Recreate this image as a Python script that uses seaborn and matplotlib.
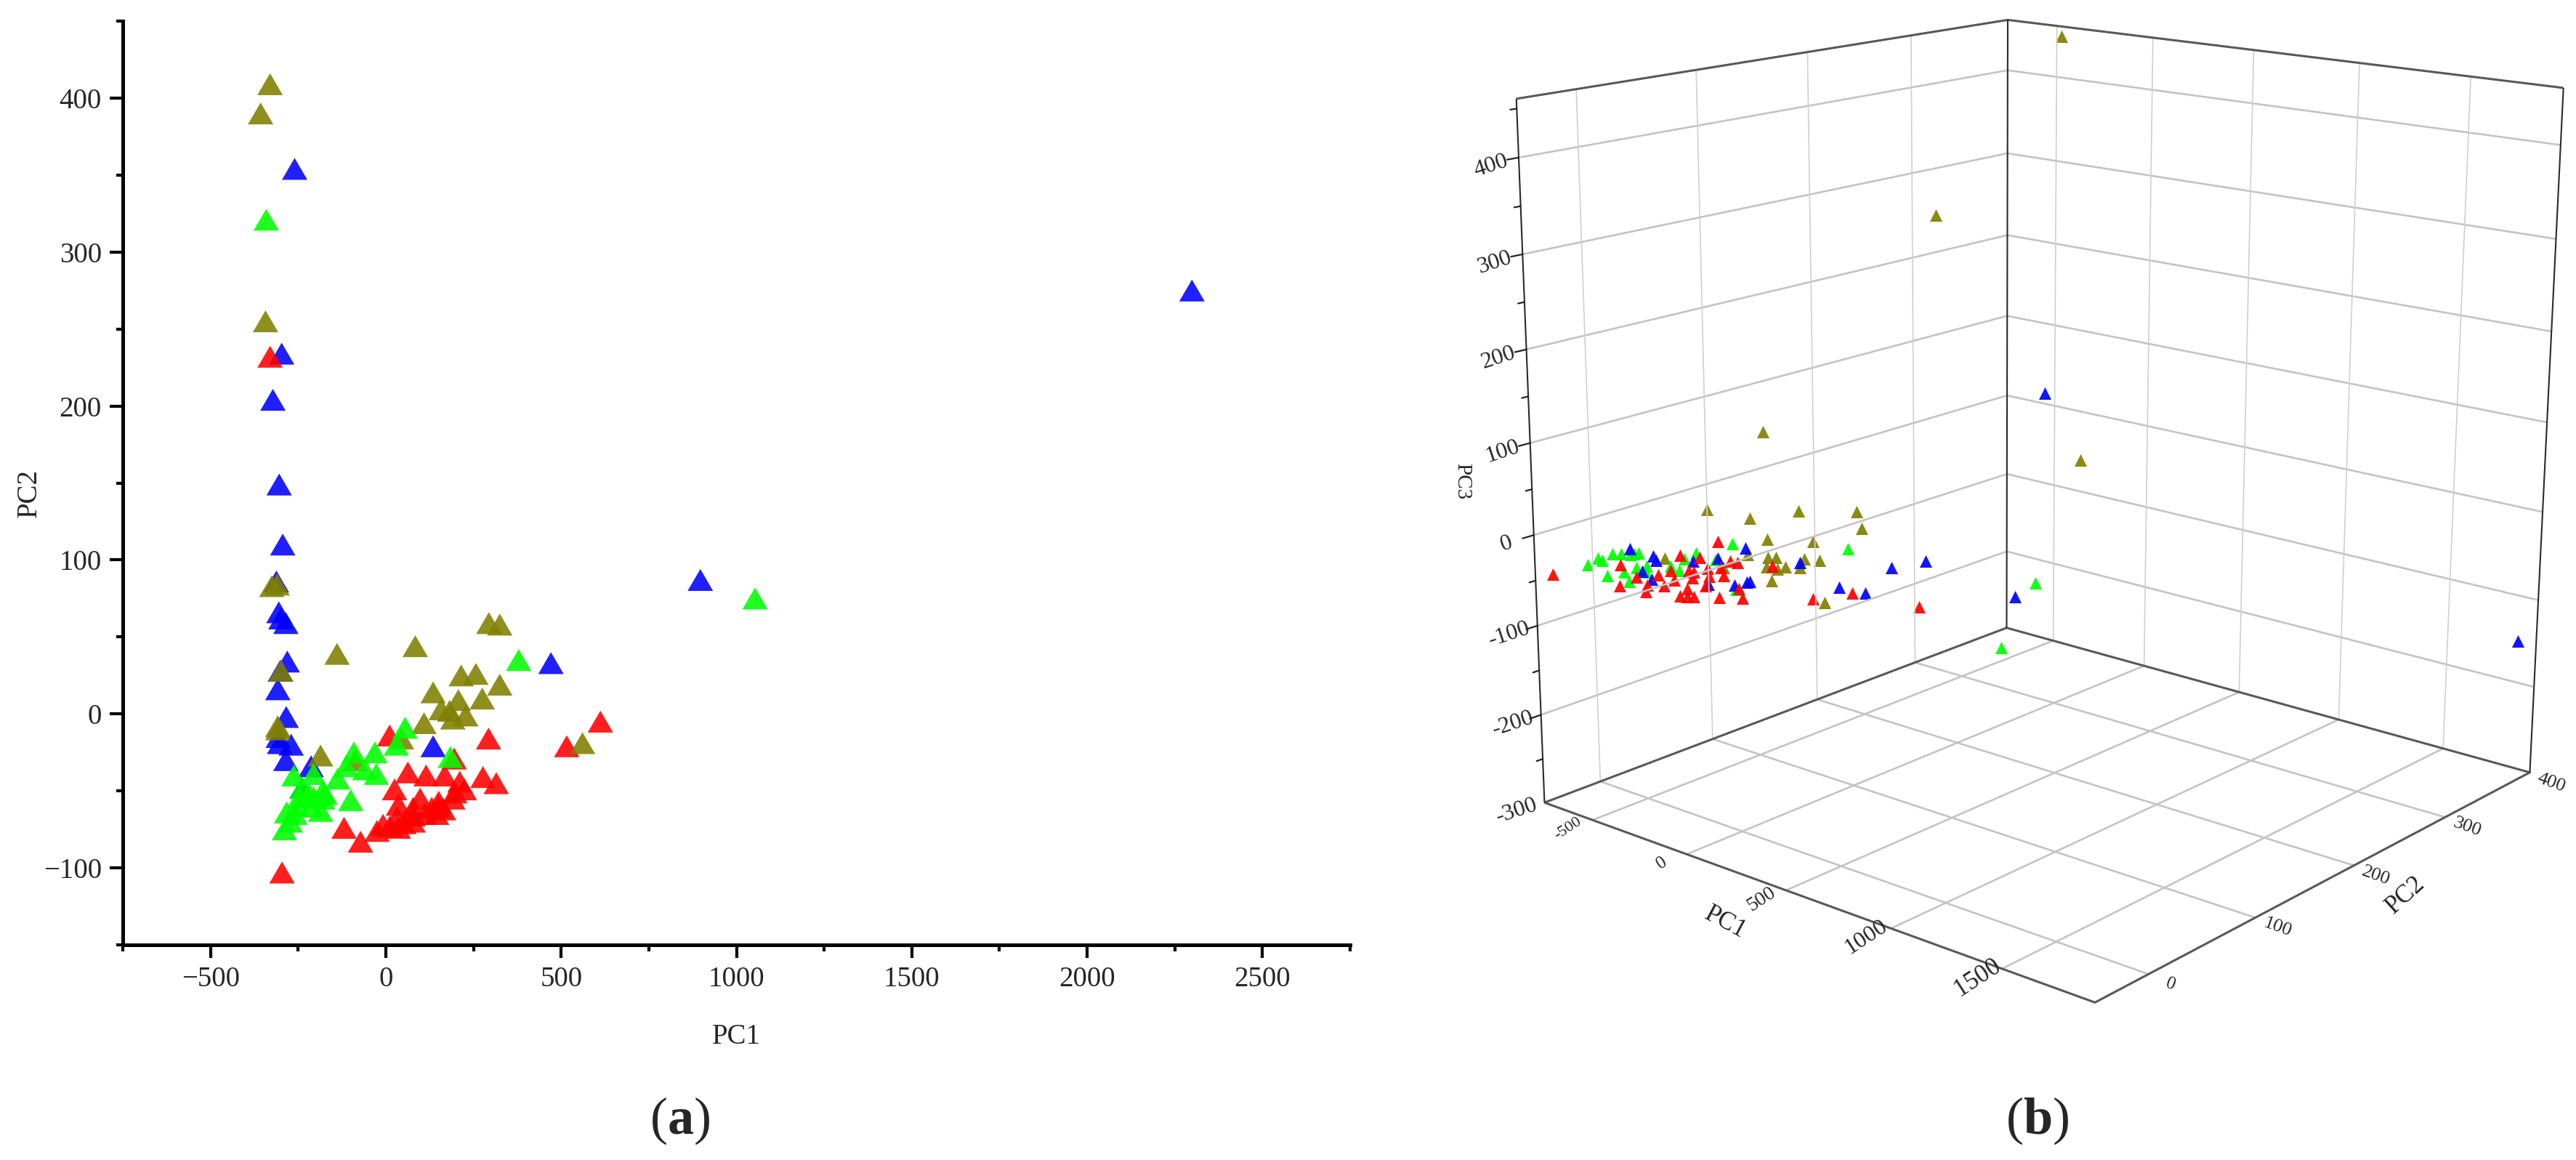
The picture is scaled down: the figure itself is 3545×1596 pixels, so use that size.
import numpy as np
import pandas as pd
import seaborn as sns
import matplotlib
matplotlib.use("Agg")
import matplotlib.pyplot as plt
from matplotlib.ticker import MultipleLocator
from mpl_toolkits.mplot3d import proj3d

# panel (a), PC1 / PC2 scores
blue_x = [2299, 897, 471, -260, -297, -322, -304, -294, -312, -305, -299, -285, -281, -301, -308, -284, -307, -303, -270, -285, -213, -239, 135]
blue_y = [275, 87, 33, 354, 234, 204, 149, 110, 86, 66, 62, 59, 34, 28, 16, -2, -15, -19, -20, -30, -34, -48, -21]
red_x = [-330, -296, -72, -119, 612, 516, 293, 11, 195, 63, 115, 277, 315, 168, 25, 211, 98, 224, 197, 36, 78, 151, 191, 131, 151, 165, 111, 145, 78, 32, -8, -25, 12, 36, 78, 52]
red_y = [232, -103, -83, -74, -5, -21, -16, -14, -29, -38, -40, -41, -45, -40, -49, -44, -55, -49, -51, -59, -61, -57, -55, -61, -60, -62, -65, -65, -66, -67, -72, -76, -73, -74, -70, -71]
olive_x = [-330, -357, -343, -325, -310, 294, 325, 84, -139, -299, 215, 257, 325, 135, 207, 275, 158, 182, 228, 191, 109, -308, -308, 561, 45, -186, -87]
olive_y = [409, 390, 255, 83, 84, 59, 58, 44, 39, 28, 25, 26, 19, 14, 9, 10, 3, 2, -1, -3, -6, -8, -10, -19, -16, -27, -30]
green_x = [1053, -341, 379, 55, 30, 184, -91, -31, -60, -113, -27, -206, -262, -137, -100, -239, -180, -219, -173, -246, -206, -180, -186, -283, -259, -272, -289, -252, -213]
green_y = [75, 321, 35, -9, -20, -28, -25, -25, -36, -34, -39, -39, -40, -42, -56, -48, -50, -52, -52, -54, -54, -55, -63, -64, -65, -70, -75, -60, -60]

# panel (b), PC1 / PC2 / PC3 scores
red3_x = [-649, -284, -290, -203, -157, -146, -90, -60, -25, -8, 26, 124, 216, 66, 94, 86, 164, 170, 148, 227, 239, 275, 312, 57, 21, 56, 91, 216, 333, 313, 478, 670, 854, 1152]
red3_z = [-35, -3, -26, -11, -24, -16, -2, -12, 6, -3, 25, 29, 51, 12, 12, 5, 20, 12, 1, 24, 17, 34, 35, -8, -18, -16, -14, -7, -1, 8, 41, 19, 36, 41]
red3_y = [-50] * 34
green3_x = [-458, -401, -379, -326, -279, -231, -209, -188, -356, -268, -240, -201, -146, -154, -25, 20, 47, 106, 203, 287, 300, 835, -206, 878]
green3_z = [-13, -3, -4, 6, 9, 11, 13, 15, -19, -10, -18, -1, 4, -3, 11, 9, 23, 32, 31, 53, 6, 79, -174, -73]
green3_y = [-50] * 22 + [321, 73]
blue3_x = [-557, -433, -419, -496, -446, -225, -94, 49, -145, -12, 52, 66, 318, 509, 631, 757, 915, -325, 125, 2266]
blue3_z = [-22, -23, -27, -43, -49, -16, -5, 14, -37, -29, -22, -21, 14, 0, 1, 35, 51, 40, -134, -67]
blue3_y = [0] * 17 + [354, 234, 274]
olive3_x = [-205, 13, 257, 540, 563, 98, 325, -3, -435, 100, 139, 280, 358, 92, 148, 186, 259, 115, 380, -129, -519, -1117, 349, -355]
olive3_z = [37, 40, 61, 76, 60, 22, 33, 0, -29, 3, 5, 12, 15, -8, -7, -2, 1, -21, -28, -22, 446, 214, 30, 87]
olive3_y = [10] * 20 + [409, 390, 255, 84]

group_colors = {"blue": "#0000ff", "red": "#ff0000", "olive": "#808000", "green": "#00ff00"}
x_ticks = [-500, 0, 500, 1000, 1500, 2000, 2500]
y_ticks = [-100, 0, 100, 200, 300, 400]
pc1_ticks = [-500, 0, 500, 1000, 1500]
pc2_ticks = [0, 100, 200, 300, 400]
pc3_ticks = [-300, -200, -100, 0, 100, 200, 300, 400]

W, H = 3545, 1596

sns.set_style("ticks")
plt.rcParams["font.family"] = ["Liberation Serif", "DejaVu Serif"]
plt.rcParams["mathtext.fontset"] = "custom"
plt.rcParams["mathtext.bf"] = "Liberation Serif:bold"
plt.rcParams["mathtext.rm"] = "Liberation Serif"

fig = plt.figure(figsize=(W / 200, H / 200), dpi=200, facecolor="white")

# ---- panel a ----
ax = fig.add_axes([169 / W, (H - 1300) / H, (1858 - 169) / W, (1300 - 29) / H])

df = pd.DataFrame({
    "PC1": blue_x + red_x + olive_x + green_x,
    "PC2": blue_y + red_y + olive_y + green_y,
    "group": ["blue"] * len(blue_x) + ["red"] * len(red_x) + ["olive"] * len(olive_x) + ["green"] * len(green_x),
})
tri = [(0, 0.43), (-0.5, -0.43), (0.5, -0.43)]
sns.scatterplot(data=df, x="PC1", y="PC2", hue="group", palette=group_colors, marker=tri,
                s=159, alpha=0.88, linewidth=0, edgecolor="none", legend=False, ax=ax, clip_on=False)
ax.set_xlim(-750, 2750)
ax.set_ylim(-150, 450)
ax.set_xticks(x_ticks)
ax.set_yticks(y_ticks)
ax.xaxis.set_minor_locator(MultipleLocator(250))
ax.yaxis.set_minor_locator(MultipleLocator(50))
ax.tick_params(which="major", length=6.5, width=1.5, labelsize=14, pad=4, color="black")
ax.tick_params(which="minor", length=3.3, width=1.5, color="black")
ax.set_xlabel("")
ax.set_ylabel("")
sns.despine(ax=ax)
for side in ["left", "bottom"]:
    ax.spines[side].set_linewidth(1.8)
    ax.spines[side].set_color("black")
ax.patch.set_visible(False)

fig.text(1013 / W, 1 - 1426 / H, "PC1", fontsize=14, ha="center", va="center")
fig.text(40 / W, 1 - 678 / H, "PC2", fontsize=14, ha="center", va="center", rotation=90)
fig.text(936 / W, 1 - 1542 / H, r"($\mathbf{a}$)", fontsize=26, ha="center", va="center")
fig.text(2804 / W, 1 - 1542 / H, r"($\mathbf{b}$)", fontsize=26, ha="center", va="center")

# ---- panel b ----
S = 1667.5
cx, cy = 2793.1, 953.2
ax3 = fig.add_axes([(cx - S / 2) / W, (cy - S / 2) / H, S / W, S / H], projection="3d")
pmin, pmax = -765.5, 1897.4
qmin, qmax = -47.2, 400
zmin, zmax = -300, 460
ax3.set_proj_type("persp", focal_length=0.487)
ax3.view_init(elev=15.641, azim=-50.32, roll=-0.301)
ax3.set_xlim(pmin, pmax, view_margin=0)
ax3.set_ylim(qmin, qmax, view_margin=0)
ax3.set_zlim(zmin, zmax, view_margin=0)
ax3.set_box_aspect((0.998, 1.005, 1))
ax3.set_axis_off()
ax3.patch.set_visible(False)
ax3.computed_zorder = False

grid_kw = dict(color="#c4c4c4", lw=0.95, solid_capstyle="butt")
vert_kw = dict(color="#d0d0d0", lw=0.6, solid_capstyle="butt")
edge_kw = dict(color="#585858", lw=1.1, solid_capstyle="butt")
post_kw = dict(color="#2a2a2a", lw=0.75, solid_capstyle="butt")

for z in pc3_ticks[1:]:
    ax3.plot([pmin, pmin, pmax], [qmin, qmax, qmax], [z, z, z], **grid_kw)
for q in pc2_ticks[:-1]:
    ax3.plot([pmin, pmin], [q, q], [zmin, zmax], **vert_kw)
    ax3.plot([pmin, pmax], [q, q], [zmin, zmin], **grid_kw)
for p in pc1_ticks:
    ax3.plot([p, p], [qmax, qmax], [zmin, zmax], **vert_kw)
    ax3.plot([p, p], [qmin, qmax], [zmin, zmin], **grid_kw)

ax3.plot([pmin, pmax, pmax, pmin, pmin], [qmin, qmin, qmax, qmax, qmin], [zmin] * 5, **edge_kw)
ax3.plot([pmin, pmin, pmax], [qmin, qmax, qmax], [zmax] * 3, **edge_kw)
for p, q in [(pmin, qmin), (pmin, qmax), (pmax, qmax)]:
    ax3.plot([p, p], [q, q], [zmin, zmax], **post_kw)

# little ticks on the PC3 post
for z in range(-250, 460, 50):
    ln = 9 if z % 100 == 0 else 5
    ax3.plot([pmin, pmin], [qmin, qmin - ln], [z, z], color="#222222", lw=0.8)

for gx, gy, gz, name in [(olive3_x, olive3_y, olive3_z, "olive"), (green3_x, green3_y, green3_z, "green"),
                         (blue3_x, blue3_y, blue3_z, "blue"), (red3_x, red3_y, red3_z, "red")]:
    ax3.scatter(gx, gy, gz, marker="^", s=38, c=group_colors[name], alpha=0.92, linewidths=0, depthshade=False)


def tick_text(x, y, z, txt, dx, dy, rot, size):
    xv, yv, _ = proj3d.proj_transform(x, y, z, ax3.get_proj())
    ax3.annotate(txt, (xv, yv), xytext=(dx, dy), textcoords="offset pixels", fontsize=size,
                 rotation=rot, ha="center", va="center", annotation_clip=False)


for z in pc3_ticks:
    tick_text(pmin, qmin, z, str(z), -38, -12, 18, 11.5)
for p, sz in zip(pc1_ticks, [8, 9, 10, 11.5, 12.5]):
    tick_text(p, qmin, zmin, str(p), -34, -12, 33, sz)
for q, sz in zip(pc2_ticks, [9, 9.5, 9.5, 9.5, 9.5]):
    tick_text(pmax, q, zmin, str(q), 30, -14, -20, sz)

fig.text(2374 / W, 1 - 1270 / H, "PC1", fontsize=12.5, ha="center", va="center", rotation=-28)
fig.text(3310 / W, 1 - 1232 / H, "PC2", fontsize=12.5, ha="center", va="center", rotation=42)
fig.text(2012 / W, 1 - 662 / H, "PC3", fontsize=10.5, ha="center", va="center", rotation=270)

fig.savefig("out.png", dpi=200, facecolor="white")
